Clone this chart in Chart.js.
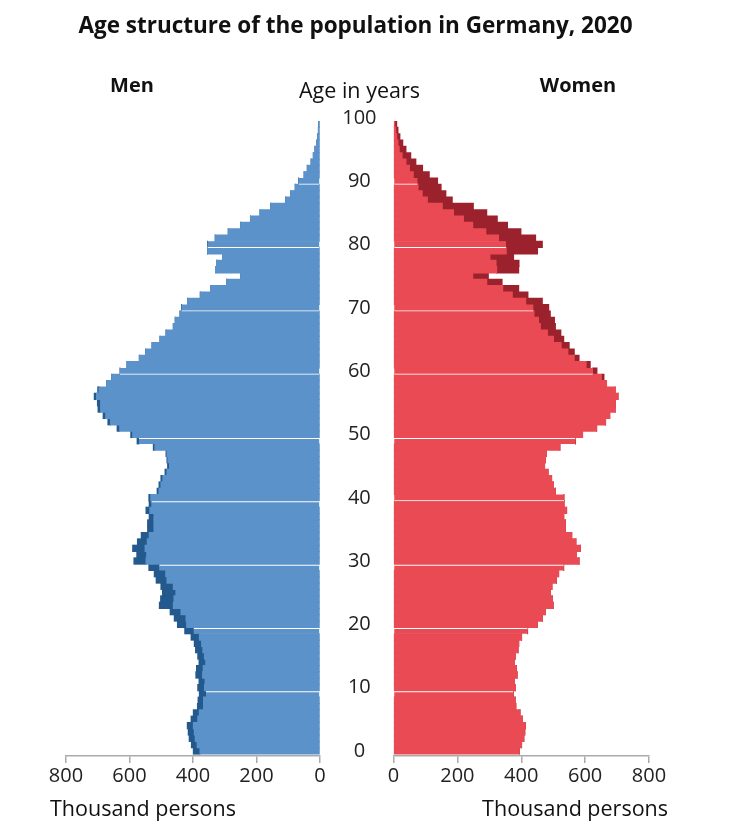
<!DOCTYPE html>
<html>
<head>
<meta charset="utf-8">
<script src="https://cdn.jsdelivr.net/npm/chart.js@4.4.1/dist/chart.umd.min.js"></script>
<style>
  html, body { margin: 0; padding: 0; background: #fff; }
  #page { position: relative; width: 730px; height: 830px; font-family: "Open Sans", sans-serif; color: #111; }
  canvas { position: absolute; top: 0; }
  .t { position: absolute; white-space: nowrap; line-height: 30px; height: 30px; }
</style>
</head>
<body>
<div id="page">
  <canvas id="men" width="340" height="830" style="left:0"></canvas>
  <canvas id="women" width="430" height="830" style="left:300px"></canvas>
  <div class="t" style="left:0;width:711px;text-align:center;top:10px;font-size:22.5px;font-weight:700">Age structure of the population in Germany, 2020</div>
  <div class="t" style="left:82px;width:100px;text-align:center;top:70px;font-size:20px;font-weight:700">Men</div>
  <div class="t" style="left:528px;width:100px;text-align:center;top:70px;font-size:20px;font-weight:700">Women</div>
  <div class="t" style="left:280px;width:159px;text-align:center;top:75px;font-size:21.5px">Age in years</div>
  <div class="t" style="left:50px;top:793px;font-size:21.5px">Thousand persons</div>
  <div class="t" style="right:62px;top:793px;font-size:21.5px">Thousand persons</div>
</div>
<script>
// single years of age, 0..99
const ages = Array.from({ length: 100 }, (_, i) => i);

// thousand persons
const men = [
  399, 405, 412, 415, 418, 406, 399, 386, 384, 380,
  385, 381, 391, 389, 381, 385, 392, 396, 406, 426,
  449, 459, 472, 506, 502, 496, 501, 516, 522, 539,
  586, 577, 590, 575, 563, 543, 543, 538, 548, 538,
  539, 513, 507, 501, 488, 480, 482, 485, 525, 576,
  596, 639, 668, 683, 699, 701, 711, 700, 672, 656,
  630, 608, 569, 549, 529, 504, 485, 462, 456, 441,
  436, 417, 377, 344, 294, 250, 328, 326, 307, 354,
  354, 330, 289, 250, 219, 189, 155, 108, 92, 78,
  67, 50, 40, 28, 21, 16, 10, 7, 5, 4
];
const women = [
  394, 401, 408, 411, 413, 403, 396, 383, 381, 375,
  382, 378, 387, 385, 378, 381, 390, 392, 401, 420,
  450, 466, 475, 500, 497, 491, 496, 510, 517, 533,
  581, 573, 585, 571, 558, 538, 538, 533, 542, 534,
  534, 507, 500, 495, 484, 473, 476, 479, 521, 570,
  592, 636, 664, 677, 694, 695, 703, 694, 667, 659,
  637, 616, 581, 566, 550, 533, 524, 507, 504, 491,
  486, 466, 421, 392, 340, 297, 392, 393, 376, 451,
  466, 445, 399, 357, 325, 292, 250, 184, 164, 149,
  138, 112, 91, 70, 54, 39, 29, 20, 14, 10
];
// dark part at the outer end of each bar (surplus)
const menSurplus = [
  21, 18, 19, 19, 19, 21, 19, 19, 17, 21,
  21, 19, 21, 21, 21, 21, 23, 23, 26, 28,
  29, 37, 34, 44, 42, 42, 39, 34, 36, 33,
  38, 31, 39, 31, 25, 20, 20, 15, 12, 7,
  6, 6, 6, 6, 6, 6, 3, 3, 5, 6,
  6, 8, 8, 8, 8, 10, 7, 4, 0, 0,
  0, 0, 0, 0, 0, 0, 0, 0, 0, 0,
  0, 0, 0, 0, 0, 0, 0, 0, 0, 0,
  0, 0, 0, 0, 0, 0, 0, 0, 0, 0,
  0, 0, 0, 0, 0, 0, 0, 0, 0, 0
];
const womenSurplus = [
  0, 0, 0, 0, 0, 0, 0, 0, 0, 0,
  0, 0, 0, 0, 0, 0, 0, 0, 0, 0,
  0, 0, 0, 0, 0, 0, 0, 0, 0, 0,
  0, 0, 0, 0, 0, 0, 0, 0, 0, 0,
  0, 0, 0, 0, 0, 0, 0, 0, 0, 0,
  0, 0, 0, 0, 0, 0, 0, 0, 0, 8,
  13, 13, 15, 20, 25, 32, 42, 47, 50, 51,
  48, 52, 49, 50, 48, 49, 69, 72, 74, 98,
  114, 116, 110, 109, 106, 104, 97, 78, 74, 72,
  63, 50, 41, 31, 27, 21, 15, 10, 7, 6
];
const xTicks = [0, 200, 400, 600, 800];
const ageTicks = [0, 10, 20, 30, 40, 50, 60, 70, 80, 90, 100];

const FONT = '"Open Sans", sans-serif';
const AXIS = '#aaaaaa';

// white line at every tenth year, carried by the shorter of the two light bars
// (bars are inflated a little to hide seams, so the top border is drawn thicker)
function decadeBorder(light) {
  return (ctx) => {
    const i = ctx.dataIndex;
    const b = { top: 0, right: 0, bottom: 0, left: 0 };
    if (i % 10 === 0 && i > 0 && light[i] <= light[i - 1]) b.bottom = 1;
    if ((i + 1) % 10 === 0 && i < 99 && light[i] < light[i + 1]) b.top = 2;
    return b;
  };
}

function pyramidSide(canvas, totals, surplus, colLight, colDark, isLeft) {
  const light = ages.map(a => totals[a] - surplus[a]);
  return new Chart(canvas, {
    type: 'bar',
    data: {
      datasets: [
        {
          data: ages.map(a => ({ x: light[a], y: a + 0.5 })),
          backgroundColor: colLight,
          borderColor: '#ffffff',
          borderWidth: decadeBorder(light),
          inflateAmount: 0.5,
        },
        {
          data: ages.map(a => ({ x: surplus[a], y: a + 0.5 })),
          backgroundColor: colDark,
          borderWidth: 0,
          inflateAmount: 0.5,
        },
      ],
    },
    options: {
      indexAxis: 'y',
      responsive: false,
      animation: false,
      events: [],
      layout: {
        padding: isLeft
          ? { left: 66, right: 20, top: 121, bottom: 34 }
          : { left: 20, right: 81, top: 121, bottom: 34 },
      },
      datasets: { bar: { barPercentage: 1, categoryPercentage: 1 } },
      plugins: { legend: { display: false }, tooltip: { enabled: false } },
      scales: {
        x: {
          type: 'linear',
          reverse: isLeft,
          min: 0,
          max: 800,
          stacked: true,
          afterBuildTicks: (s) => { s.ticks = xTicks.map(v => ({ value: v })); },
          afterFit: (s) => { s.height = 40; },
          grid: { drawOnChartArea: false, tickLength: 7, color: AXIS, lineWidth: 1.5 },
          border: { color: AXIS, width: 1.5 },
          ticks: { font: { size: 20, family: FONT }, color: '#222', padding: 1, maxRotation: 0, autoSkip: false },
        },
        y: {
          type: 'linear',
          position: 'left',
          min: -0.3,
          max: 100,
          offset: false,
          stacked: true,
          display: !isLeft,
          afterBuildTicks: (s) => { s.ticks = ageTicks.map(v => ({ value: v })); },
          afterFit: (s) => { if (!isLeft) s.width = 73.5; },
          grid: { display: false, drawTicks: false, offset: false },
          border: { display: false },
          ticks: {
            font: { size: 20, family: FONT }, color: '#222',
            crossAlign: 'center', padding: 17, labelOffset: -3, autoSkip: false,
          },
        },
      },
    },
  });
}

pyramidSide(document.getElementById('men'), men, menSurplus, '#5a92c9', '#23598c', true);
pyramidSide(document.getElementById('women'), women, womenSurplus, '#e94a53', '#9b222c', false);
</script>
</body>
</html>
